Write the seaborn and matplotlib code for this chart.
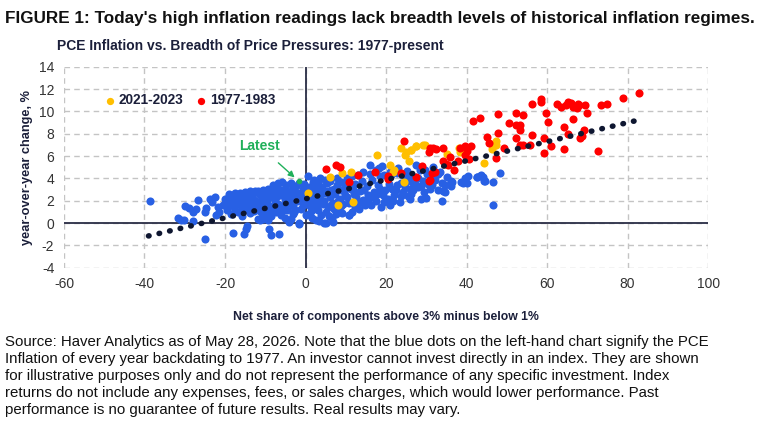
import matplotlib
matplotlib.use("Agg")
import matplotlib.pyplot as plt
import seaborn as sns
import pandas as pd

# --- data ---
blue_x = [-38.6, -31.8, -30.9, -30.1, -29.9, -29.0, -28.0, -27.9, -27.2, -26.8, -25.0, -24.7, -24.9,
          -23.7, -22.6, -23.2, -21.8, -21.4, -22.2, -20.1, -20.5,
          -18.9, -18.2, -17.6, -17.0, -16.5, -16.0, -15.5, -15.0, -14.5, -14.0, -13.5, -13.0, -12.5,
          -12.0, -11.5, -11.0, -10.5, -10.2, -19.5, -18.5, -17.8, -16.8, -15.8, -14.8, -13.8, -12.8,
          -11.8, -10.8, -18.1, -14.9, -14.6, -15.3, -9.1, -8.5, -6.5, -19.0, -17.3, -16.2, -13.2,
          -12.2, -10.9, -11.4, -10.6,
          -9.8, -9.5, -9.2, -8.8, -8.4, -8.0, -7.6, -7.2, -6.8, -6.4, -6.0, -5.6, -5.2, -4.8, -4.4,
          -4.0, -3.6, -3.2, -2.8, -2.3, -2.0, -1.5, -1.2, -0.8, -0.7, -0.3, -9.6, -8.6, -7.4, -6.2,
          -5.0, -4.0, -3.0, -1.7, -1.5, -9.3, -7.8, -6.6, -5.4, -4.2, -3.4, -2.5, -1.0, -0.4, -8.2, -5.8,
          0.6, 1.8, 3.1, 2.7, 0.2, 4.7, 6.8, 5.1, 2.7, 0.5, 1.0, 1.4, 2.0, 2.4, 3.0, 3.5, 4.0, 4.4,
          4.8, 5.3, 5.6, 6.0, 6.4, 6.9, 7.3, 7.7, 8.1, 8.5, 8.9, 9.3, 9.7, 1.2, 3.8, 5.9, 7.5, 9.0,
          0.8, 2.2, 3.6, 4.9, 6.2, 7.9, 8.7, 9.8, 1.6, 5.0, 7.0,
          10.4, 10.8, 10.9, 11.2, 11.6, 12.0, 12.4, 12.8, 13.4, 13.6, 14.0, 14.4, 14.8, 15.2, 15.6,
          15.9, 16.3, 16.6, 17.0, 17.4, 17.6, 18.0, 18.4, 18.8, 19.0, 19.2, 19.6, 19.8, 10.2, 11.5,
          13.0, 14.2, 16.0, 12.2, 15.0,
          20.5, 20.9, 21.3, 21.5, 22.0, 22.6, 23.0, 23.4, 23.8, 24.2, 24.6, 25.0, 25.5, 25.9, 25.9,
          26.4, 26.8, 27.1, 27.5, 27.9, 28.4, 28.8, 29.2, 29.6, 30.0, 30.4, 30.8, 31.2, 31.7, 32.2,
          32.8, 33.3, 33.8, 34.0, 34.2, 34.6, 34.7, 35.2, 36.2, 36.2, 36.5, 22.8, 24.0, 26.0, 28.0, 30.2,
          38.7, 39.1, 39.5, 40.0, 40.4, 42.5, 42.6, 43.3, 43.7, 44.1, 44.4, 44.5, 46.6, 46.6, 48.4]
blue_y = [2.0, 0.42, 0.3, 0.27, 1.55, 1.31, 1.0, 0.2, 1.3, 2.1, -1.4, 1.37, 1.0,
          2.2, 2.3, 1.9, 1.46, 1.0, 0.7, 2.2, 1.6,
          2.6, 2.4, 2.7, 1.9, 2.3, 1.5, 2.0, 2.8, 1.2, 2.5, 1.8, 2.2, 2.9,
          1.4, 2.6, 2.0, 3.0, 1.6, 1.2, 0.8, 1.4, 1.0, 0.6, 2.1, 0.9, 1.1,
          0.4, 0.9, -0.87, -0.57, -0.3, -0.97, -0.57, -1.07, -1.0, 1.8, 2.1, 2.7, 2.6,
          2.0, 2.4, 0.3, 0.4,
          2.8, 1.9, 3.1, 2.3, 1.4, 2.9, 2.1, 3.3, 1.7, 2.5, 3.0, 1.2, 2.2, 3.4, 1.8,
          2.7, 3.6, 1.5, 2.4, 3.3, 2.0, 3.6, 1.3, 2.8, 3.1, 1.9, 0.9, 0.6, 1.0, 0.7,
          0.5, 0.12, 0.8, -0.1, 0.0, 1.5, 1.6, 2.8, 1.6, 2.3, 2.9, 1.2, 2.5, 3.5, 3.4, 3.7,
          4.2, 3.7, 3.6, 3.0, 0.7, 0.0, 0.1, 0.0, 0.3, 2.2, 1.5, 2.8, 1.9, 2.5, 1.2, 2.2, 3.2, 1.7,
          2.7, 3.6, 1.4, 2.3, 3.0, 1.8, 2.6, 3.4, 1.2, 2.2, 3.0, 1.7, 2.5, 0.9, 0.7, 0.6, 0.8, 0.9,
          3.2, 3.9, 4.0, 3.9, 3.8, 4.0, 3.7, 3.4, 1.2, 1.0, 1.3,
          2.3, 0.72, 0.72, 3.1, 1.0, 2.6, 3.5, 1.8, 1.3, 2.9, 3.8, 2.1, 1.6, 3.3, 2.5,
          5.2, 1.6, 3.9, 2.8, 2.0, 4.75, 3.4, 4.2, 1.4, 5.1, 2.5, 4.3, 3.0, 4.0, 4.2,
          4.3, 4.6, 4.4, 1.4, 1.9,
          2.2, 1.6, 4.3, 3.1, 2.5, 4.45, 4.9, 1.9, 3.6, 2.8, 3.2, 4.0, 2.4, 4.3, 2.2,
          3.7, 3.0, 4.15, 5.2, 3.25, 4.75, 2.15, 3.8, 4.75, 2.27, 3.5, 3.1, 4.2, 5.0, 3.9,
          4.4, 4.6, 3.6, 2.0, 2.9, 3.4, 2.75, 4.1, 3.3, 3.76, 3.7, 3.4, 4.4, 3.1, 4.0, 4.4,
          3.7, 3.6, 4.0, 3.55, 4.2, 4.15, 4.15, 4.2, 4.3, 4.15, 3.76, 3.8, 3.7, 1.6, 4.5]

# more blue months inside the dense band
blue_x2 = [-19.8, -18.7, -17.4, -16.4, -15.2, -14.2, -13.4, -12.4, -11.2, -10.4, -17.9, -15.9, -13.9, -11.7, -10.1,
           -9.9, -9.0, -8.3, -7.0, -6.3, -5.5, -4.6, -3.8, -3.0, -2.1, -1.4, -0.6, -7.9, -5.1, -2.9, -0.2, -6.9,
           -4.5, -3.5, -9.2,
           0.3, 1.2, 2.0, 2.9, 3.9, 4.6, 5.4, 6.3, 7.1, 8.0, 8.8, 9.5, 1.5, 3.3, 6.5, 0.9,
           10.7, 11.9, 12.6, 13.8, 14.6, 15.4, 16.5, 17.8, 18.6, 19.4, 20.8, 21.8, 22.5, 23.6, 24.8, 26.2,
           27.3, 28.6, 29.4, 31.5, 33.0, 25.2, 21.0, 18.2]
blue_y2 = [2.0, 1.6, 1.1, 1.8, 1.3, 1.6, 1.3, 1.7, 1.1, 2.2, 2.2, 2.4, 2.9, 2.9, 2.7,
           2.3, 1.2, 2.6, 2.4, 1.3, 2.7, 1.2, 2.0, 3.2, 2.7, 2.2, 1.6, 1.1, 3.1, 1.0, 2.6, 3.6,
           2.9, 0.4, 0.3,
           1.7, 2.4, 3.3, 1.6, 2.6, 2.0, 2.9, 1.6, 3.1, 2.0, 1.5, 2.9, 0.5, 0.2, 0.5, 2.0,
           1.8, 3.0, 2.3, 1.9, 3.0, 2.0, 2.3, 2.6, 3.1, 1.9, 3.5, 2.0, 3.0, 2.4, 3.7, 2.6,
           3.5, 3.3, 2.8, 3.4, 3.0, 4.7, 4.6, 4.9]

red_x = [82.9, 78.9, 74.9, 73.3, 69.4, 70.0, 67.7, 66.5, 65.3, 64.8, 62.5, 66.5, 58.6, 58.6, 56.3,
         59.7, 60.3, 64.3, 65.3, 69.2, 68.2, 68.8, 72.7, 64.3, 60.9, 59.2, 59.2, 56.3, 55.7, 54.1,
         53.2, 52.4, 53.4, 53.2, 52.4, 50.6, 52.2, 54.1, 47.8, 47.8, 45.0, 45.5, 43.3, 41.5, 49.3,
         47.3, 41.0, 39.7, 39.7, 38.3, 37.9, 36.8, 35.4, 34.2, 34.2, 31.7, 32.5, 30.7, 30.8, 31.3,
         30.7, 29.0, 27.4, 24.5, 20.5, 17.2, 13.0, 10.8, 8.5, 7.5, 5.1, 66.0, 67.5, 68.0, 63.4,
         40.0, 36.0, 35.0, 40.5, 32.1, 23.8, 30.8, 20.5]
red_y = [11.7, 11.2, 10.65, 10.6, 10.57, 9.82, 10.66, 10.42, 10.87, 10.57, 10.63, 9.37, 11.16, 10.87, 10.63,
         9.82, 9.07, 8.63, 7.97, 8.33, 7.64, 7.79, 6.48, 6.66, 6.9, 6.24, 7.58, 7.88, 7.04, 7.04,
         6.99, 7.64, 8.33, 8.78, 8.78, 8.99, 9.88, 9.67, 9.73, 8.03, 7.73, 7.22, 9.46, 9.16, 6.75,
         5.85, 6.93, 6.93, 6.09, 6.75, 5.55, 4.75, 5.25, 5.55, 6.69, 6.75, 6.60, 6.39, 6.69, 4.45,
         3.76, 5.1, 4.15, 7.34, 4.24, 4.6, 4.3, 3.7, 5.04, 5.19, 4.84, 10.8, 10.3, 10.6, 10.4,
         6.5, 5.9, 5.3, 5.7, 4.6, 4.45, 3.85, 3.91]

yellow_x = [0.6, 6.2, 9.1, 11.4, 8.0, 11.8, 17.7, 20.9, 22.1, 21.7, 24.5, 23.8, 24.6, 25.6,
            26.1, 27.4, 29.2, 29.6, 35.2, 38.1, 38.3, 44.4, 46.4, 47.3, 47.2, 25.0, 26.3, 27.5]
yellow_y = [2.72, 4.09, 4.51, 4.54, 1.61, 1.91, 6.09, 5.25, 4.75, 4.54, 3.7, 6.75, 6.09, 5.55,
            6.54, 6.93, 6.99, 7.04, 6.18, 6.75, 6.39, 5.4, 6.6, 7.34, 6.99, 6.35, 6.53, 6.89]

latest_x = [-1.7]
latest_y = [3.79]

trend_x = [-39, 83.5]
trend_y = [-1.15, 9.3]

x_ticks = [-60, -40, -20, 0, 20, 40, 60, 80, 100]
y_ticks = [-4, -2, 0, 2, 4, 6, 8, 10, 12, 14]

BLUE = "#2860e4"
RED = "#ff0000"
YELLOW = "#ffbf00"
NAVY = "#0e1630"
GREEN = "#20b05a"
TXT = "#1b1f3a"

sns.set_style("white")
plt.rcParams["font.family"] = ["Liberation Sans", "DejaVu Sans"]
plt.rcParams["axes.unicode_minus"] = False

fig = plt.figure(figsize=(7.68, 4.23), dpi=100)
ax = fig.add_axes([0.0833, 0.367, 0.922 - 0.0833, 0.842 - 0.367])

blue = pd.DataFrame({"x": blue_x + blue_x2, "y": blue_y + blue_y2})
red = pd.DataFrame({"x": red_x, "y": red_y})
yellow = pd.DataFrame({"x": yellow_x, "y": yellow_y})

sns.scatterplot(data=blue, x="x", y="y", color=BLUE, s=34, linewidth=0, ax=ax, zorder=3)
sns.scatterplot(data=yellow, x="x", y="y", color=YELLOW, s=34, linewidth=0, ax=ax, zorder=4,
                label="2021-2023")
sns.scatterplot(data=red, x="x", y="y", color=RED, s=34, linewidth=0, ax=ax, zorder=5,
                label="1977-1983")
# dotted fit line
ax.plot(trend_x, trend_y, color=NAVY, lw=4.0, linestyle=(0, (0.1, 1.85)),
        dash_capstyle="round", zorder=6)
sns.scatterplot(x=latest_x, y=latest_y, color=GREEN, s=16, linewidth=0, ax=ax, zorder=7)

ax.annotate("Latest", xy=(latest_x[0] - 1.0, latest_y[0] + 0.3), xytext=(-11.4, 6.9),
            color=GREEN, fontsize=10, fontweight="bold", ha="center", va="center",
            arrowprops=dict(arrowstyle="-|>", color=GREEN, lw=1.0, mutation_scale=9,
                            shrinkA=7, shrinkB=0))

ax.axhline(0, color="#2a2d45", lw=1.3, zorder=2)
ax.axvline(0, color="#2a2d45", lw=1.3, zorder=2)

ax.set_xlim(-60, 100)
ax.set_ylim(-4, 14)
ax.set_xticks(x_ticks)
ax.set_yticks(y_ticks)
ax.grid(True, color="#c4c4c4", lw=1.0, linestyle=(0, (4, 3)), zorder=0)
for sp in ax.spines.values():
    sp.set_visible(False)
ax.tick_params(length=0, labelsize=10, labelcolor="#333333", pad=7)

ax.set_xlabel("Net share of components above 3% minus below 1%", fontsize=8.8,
              fontweight="bold", color=TXT, labelpad=14)
ax.set_ylabel("year-over-year change, %", fontsize=9.2, fontweight="bold", color=TXT,
              labelpad=4)

leg = ax.legend(loc="center", bbox_to_anchor=(0.196, 0.834), ncol=2, frameon=False,
                handlelength=0.7, handletextpad=0.25, columnspacing=1.0, markerscale=0.9,
                prop={"size": 9.8, "weight": "bold"})
for t in leg.get_texts():
    t.set_color(TXT)

fig.text(0.006, 0.957, "FIGURE 1: Today's high inflation readings lack breadth levels of historical inflation regimes.",
         fontsize=12.3, fontweight="bold", color="#111111", va="center")
fig.text(0.074, 0.891, "PCE Inflation vs. Breadth of Price Pressures: 1977-present",
         fontsize=10, fontweight="bold", color=TXT, va="center")

footnote = ("Source: Haver Analytics as of May 28, 2026. Note that the blue dots on the left-hand chart signify the PCE\n"
            "Inflation of every year backdating to 1977. An investor cannot invest directly in an index. They are shown\n"
            "for illustrative purposes only and do not represent the performance of any specific investment. Index\n"
            "returns do not include any expenses, fees, or sales charges, which would lower performance. Past\n"
            "performance is no guarantee of future results. Real results may vary.")
fig.text(0.006, 0.111, footnote, fontsize=10.8, color="#111111", va="center", linespacing=1.26)

fig.savefig("out.png", dpi=100)
